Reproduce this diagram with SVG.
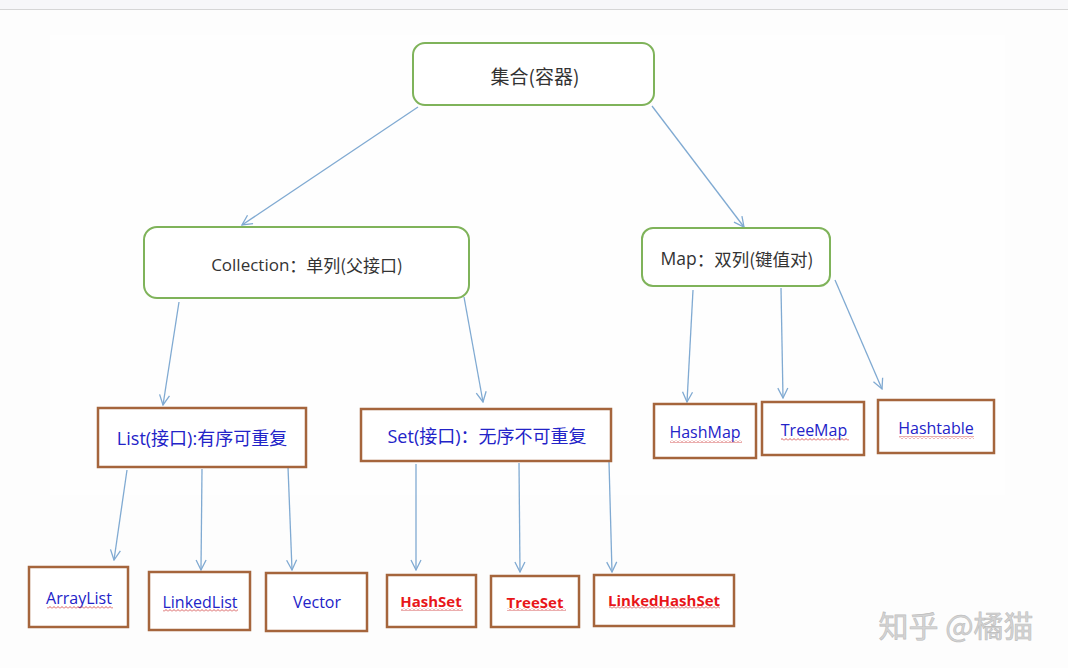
<svg xmlns="http://www.w3.org/2000/svg" width="1068" height="668" viewBox="0 0 1068 668">
<defs>
<style>
.green{fill:#ffffff;stroke:#7fb35a;stroke-width:2}
.brown{fill:#ffffff;stroke:#a5653c;stroke-width:2.5}
.t{font-family:"Noto Sans CJK SC","Noto Sans",sans-serif;text-anchor:middle;dominant-baseline:central}
.dark{fill:#333333;font-size:16px}
.blue{fill:#2323c8;font-size:16px;font-family:"Open Sans","Noto Sans CJK SC",sans-serif}
.red{fill:#e8161a;font-size:15px;font-weight:bold;font-family:"Open Sans","Noto Sans CJK SC",sans-serif}
.conn line{stroke:#80aad2;stroke-width:1.3;fill:none;marker-end:url(#arr)}
.wv{fill:url(#wave)}
</style>
<marker id="arr" viewBox="0 0 12 12" refX="11" refY="6" markerWidth="12" markerHeight="12" markerUnits="userSpaceOnUse" orient="auto">
<path d="M1,1 L11,6 L1,11" fill="none" stroke="#80aad2" stroke-width="1.3"/>
</marker>
<pattern id="wave" width="4" height="3" patternUnits="userSpaceOnUse">
<path d="M0,2.5 L2,0.5 L4,2.5" fill="none" stroke="#d24a4a" stroke-width="0.9"/>
</pattern>
</defs>
<rect x="0" y="0" width="1068" height="668" fill="#fdfdfd"/>
<rect x="0" y="0" width="1068" height="9" fill="#f7f7f9"/>
<line x1="0" y1="9.5" x2="1068" y2="9.5" stroke="#d6d6d6" stroke-width="1"/>
<rect x="50" y="35" width="955" height="460" fill="#fefefe"/>

<g id="connectors" class="conn">
<line x1="418" y1="107" x2="242" y2="225"/>
<line x1="652" y1="106" x2="744" y2="227"/>
<line x1="179" y1="302" x2="163" y2="405"/>
<line x1="464" y1="297" x2="483" y2="402"/>
<line x1="693" y1="290" x2="687" y2="402"/>
<line x1="781" y1="288" x2="783" y2="398"/>
<line x1="835" y1="280" x2="882" y2="389"/>
<line x1="127" y1="470" x2="114" y2="560"/>
<line x1="202" y1="469" x2="201" y2="570"/>
<line x1="288" y1="467" x2="292" y2="570"/>
<line x1="416" y1="464" x2="416" y2="570"/>
<line x1="519" y1="463" x2="520" y2="572"/>
<line x1="609" y1="462" x2="612" y2="572"/>
</g>

<g id="node-collections">
<rect class="green" x="413" y="43" width="241" height="62" rx="12"/>
<text class="t dark" x="535" y="75" style="font-size:19px">集合(容器)</text>
</g>
<g id="node-collection">
<rect class="green" x="144" y="227" width="325" height="71" rx="13"/>
<text class="t dark" x="307" y="264" style="font-size:17px"><tspan font-family="Open Sans,sans-serif">Collection</tspan>：单列(父接口)</text>
</g>
<g id="node-map">
<rect class="green" x="642" y="228" width="188" height="58" rx="11"/>
<text class="t dark" x="737" y="258" style="font-size:17.5px"><tspan font-family="Open Sans,sans-serif">Map</tspan>：双列(键值对)</text>
</g>

<g id="node-list">
<rect class="brown" x="98" y="408" width="208" height="59"/>
<text class="t blue" x="202" y="438" style="font-size:18px">List(接口):有序可重复</text>
</g>
<g id="node-set">
<rect class="brown" x="361" y="409" width="250" height="52"/>
<text class="t blue" x="487" y="436" style="font-size:18px">Set(接口)：无序不可重复</text>
</g>

<g id="node-hashmap">
<rect class="brown" x="654" y="404" width="102" height="54"/>
<text class="t blue" x="705" y="432">HashMap</text>
<rect class="wv" x="670" y="440" width="72" height="3"/>
</g>
<g id="node-treemap">
<rect class="brown" x="762" y="402" width="102" height="53"/>
<text class="t blue" x="814" y="430">TreeMap</text>
<rect class="wv" x="781" y="438" width="68" height="3"/>
</g>
<g id="node-hashtable">
<rect class="brown" x="878" y="400" width="116" height="53"/>
<text class="t blue" x="936" y="428">Hashtable</text>
<rect class="wv" x="899" y="436" width="75" height="3"/>
</g>

<g id="node-arraylist">
<rect class="brown" x="29" y="567" width="99" height="60"/>
<text class="t blue" x="79" y="598">ArrayList</text>
<rect class="wv" x="47" y="606" width="66" height="3"/>
</g>
<g id="node-linkedlist">
<rect class="brown" x="149" y="572" width="101" height="58"/>
<text class="t blue" x="200" y="602">LinkedList</text>
<rect class="wv" x="163" y="609" width="75" height="3"/>
</g>
<g id="node-vector">
<rect class="brown" x="266" y="573" width="101" height="58"/>
<text class="t blue" x="317" y="602">Vector</text>
</g>

<g id="node-hashset">
<rect class="brown" x="387" y="575" width="89" height="52"/>
<text class="t red" x="431" y="601">HashSet</text>
<rect class="wv" x="401" y="608" width="62" height="3"/>
</g>
<g id="node-treeset">
<rect class="brown" x="491" y="576" width="88" height="51"/>
<text class="t red" x="535" y="602">TreeSet</text>
<rect class="wv" x="507" y="608" width="59" height="3"/>
</g>
<g id="node-linkedhashset">
<rect class="brown" x="594" y="575" width="140" height="51"/>
<text class="t red" x="664" y="600">LinkedHashSet</text>
<rect class="wv" x="609" y="606" width="111" height="3"/>
</g>

<text x="956" y="624" font-family="Noto Sans CJK SC,sans-serif" font-size="30" fill="#d4d4d4" stroke="#bdbdbd" stroke-width="0.6" text-anchor="middle" dominant-baseline="central">知乎 @橘猫</text>
</svg>
